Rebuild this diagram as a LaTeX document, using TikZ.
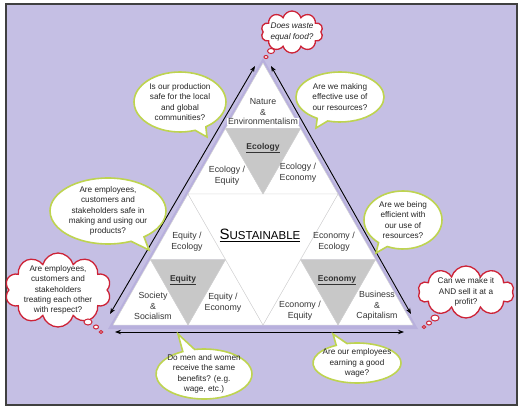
\documentclass[tikz,border=0pt]{standalone}
\usepackage{fontspec}
\setmainfont{Liberation Sans}
\usetikzlibrary{arrows.meta}
\usetikzlibrary{shapes.symbols,shapes.callouts,shapes.geometric}
\usetikzlibrary{positioning}

\definecolor{lavender}{RGB}{197,191,228}
\definecolor{band}{RGB}{184,176,221}
\definecolor{cloudred}{RGB}{205,35,55}
\definecolor{bubblegreen}{RGB}{190,212,80}
\definecolor{corner}{RGB}{200,200,200}
\definecolor{labelgray}{RGB}{55,55,55}

\tikzset{
    cell/.style={fill=white, draw=gray!35, line width=0.4pt},
    core/.style={fill=corner, draw=gray!35, line width=0.4pt},
    celltext/.style={align=center, text=labelgray, inner sep=1pt, font=\fontsize{8.8}{10.6}\selectfont},
    coretext/.style={text=black!80, inner sep=0pt, font=\fontsize{8.5}{10}\selectfont\bfseries},
    side/.style={<->, >={Stealth[length=6pt, width=4.5pt]}, line width=0.9pt},
    speech/.style={ellipse callout, draw=bubblegreen, line width=1.6pt, fill=white, inner sep=0pt},
    thought/.style={cloud, cloud puffs=10, cloud ignores aspect, draw=cloudred, line width=1.3pt, fill=white, inner sep=0pt},
    puff/.style={ellipse, draw=cloudred, line width=1pt, fill=white, inner sep=0pt},
    asktext/.style={align=center, text=black!85, inner sep=0pt, font=\fontsize{8.2}{10.4}\selectfont},
}

\begin{document}
\begin{tikzpicture}[x=1pt, y=-1pt]
    \useasboundingbox (0,0) rectangle (528,409);
    \fill[white] (0,0) rectangle (528,409);
    \draw[fill=lavender, draw=black!75, line width=1.6pt] (6,4) rectangle (517,405);

    % grid points of the big triangle, row r from the top
    \foreach \r in {0,...,4}{
        \foreach \k in {0,...,\r}{
            \coordinate (p-\r-\k) at ({263-37.5*\r+75*\k}, {63+65.5*\r});
        }
    }
    \fill[band] (263,58) -- (108,329) -- (418,329) -- cycle;

    % white cells
    \foreach \a/\b/\c in {p-0-0/p-1-0/p-1-1, p-1-0/p-2-0/p-2-1, p-1-1/p-2-1/p-2-2,
                          p-2-0/p-3-0/p-3-1, p-3-0/p-4-0/p-4-1, p-3-1/p-4-1/p-4-2,
                          p-2-2/p-3-2/p-3-3, p-3-2/p-4-2/p-4-3, p-3-3/p-4-3/p-4-4,
                          p-2-0/p-2-2/p-4-2}
        \draw[cell] (\a) -- (\b) -- (\c) -- cycle;
    % grey cores
    \foreach \a/\b/\c in {p-1-0/p-1-1/p-2-1, p-3-0/p-3-1/p-4-1, p-3-2/p-3-3/p-4-3}
        \draw[core] (\a) -- (\b) -- (\c) -- cycle;

    % cell labels
    \node[celltext] (nature) at (263,112) {Nature\\\&\\[-1pt]\fboxsep=0.6pt\colorbox{white}{Environmentalism}};
    \node[coretext] (ecology) at (263,148) {\underline{Ecology}};
    \node[celltext] (ecoequ) at (227,176) {Ecology /\\Equity};
    \node[celltext] (ecoeco) at (298,173) {Ecology /\\Economy};
    \node[celltext] (equeco) at (187,242) {Equity /\\Ecology};
    \node[celltext] (ecnecl) at (334,242) {Economy /\\Ecology};
    \node[coretext] (equity) at (183,280) {\underline{Equity}};
    \node[coretext] (economy) at (337,280) {\underline{Economy}};
    \node[celltext] (society) at (153,306) {Society\\\&\\Socialism};
    \node[celltext] (equecn) at (223,303) {Equity /\\Economy};
    \node[celltext] (ecnequ) at (300,311) {Economy /\\Equity};
    \node[celltext] (business) at (377,306) {Business\\\&\\Capitalism};
    \node[inner sep=0pt] (sust) at (260,235) {\underline{{\fontsize{15}{15}\selectfont S}{\fontsize{11.5}{12}\selectfont USTAINABLE}}};

    % arrows along the sides
    \coordinate (lb) at (110,314);
    \coordinate (lt) at (255,66);
    \coordinate (rt) at (271,66);
    \coordinate (rb) at (411,314);
    \coordinate (bl) at (115,332);
    \coordinate (br) at (404,332);
    \draw[side] (lb) -- (lt);
    \draw[side] (rt) -- (rb);
    \draw[side] (bl) -- (br);

    % speech bubbles
    \coordinate (t1) at (207,137);
    \coordinate (t2) at (316,128);
    \coordinate (t3) at (149,250);
    \coordinate (t4) at (376,253);
    \coordinate (t5) at (178,334);
    \coordinate (t6) at (333,334);
    \node[speech, minimum width=92pt, minimum height=60pt, callout absolute pointer={(t1)}] (q1) at (180,102) {};
    \node[asktext] (q1-text) at (q1.center) {Is our production\\safe for the local\\and global\\communities?};
    \node[speech, minimum width=88pt, minimum height=50pt, callout absolute pointer={(t2)}] (q2) at (340,97) {};
    \node[asktext] (q2-text) at (q2.center) {Are we making\\effective use of\\our resources?};
    \node[speech, minimum width=116pt, minimum height=66pt, callout absolute pointer={(t3)}] (q3) at (108,211) {};
    \node[asktext] (q3-text) at (q3.center) {Are employees,\\customers and\\stakeholders safe in\\making and using our\\products?};
    \node[speech, minimum width=78pt, minimum height=58pt, callout absolute pointer={(t4)}] (q4) at (403,220) {};
    \node[asktext] (q4-text) at (q4.center) {Are we being\\efficient with\\our use of\\resources?};
    \node[speech, minimum width=96pt, minimum height=50pt, callout absolute pointer={(t5)}] (q5) at (204,374) {};
    \node[asktext] (q5-text) at (q5.center) {Do men and women\\receive the same\\benefits? (e.g.\\wage, etc.)};
    \node[speech, minimum width=88pt, minimum height=40pt, callout absolute pointer={(t6)}] (q6) at (357,363) {};
    \node[asktext] (q6-text) at (q6.center) {Are our employees\\earning a good\\wage?};

    % thought clouds
    \node[thought, minimum width=62pt, minimum height=42pt] (c1) at (292,32) {};
    \node[asktext] (c1-text) at (c1.center) {\itshape Does waste\\\itshape equal food?};
    \node[puff, minimum width=7pt, minimum height=5pt] (c1a) at (271,51) {};
    \node[puff, minimum width=4pt, minimum height=3pt] (c1b) at (266,57) {};

    \node[thought, minimum width=106pt, minimum height=74pt] (c2) at (58,290) {};
    \node[asktext] (c2-text) at (c2.center) {Are employees,\\customers and\\stakeholders\\treating each other\\with respect?};
    \node[puff, minimum width=8pt, minimum height=6pt] (c2a) at (88,322) {};
    \node[puff, minimum width=5pt, minimum height=4pt] (c2b) at (96,327) {};
    \node[puff, minimum width=3.5pt, minimum height=3pt] (c2c) at (101,332) {};

    \node[thought, minimum width=96pt, minimum height=52pt] (c3) at (466,292) {};
    \node[asktext] (c3-text) at (c3.center) {Can we make it\\AND sell it at a\\profit?};
    \node[puff, minimum width=8pt, minimum height=6pt] (c3a) at (435,318) {};
    \node[puff, minimum width=5pt, minimum height=4pt] (c3b) at (429,323) {};
    \node[puff, minimum width=3.5pt, minimum height=3pt] (c3c) at (424,327) {};
\end{tikzpicture}
\end{document}
